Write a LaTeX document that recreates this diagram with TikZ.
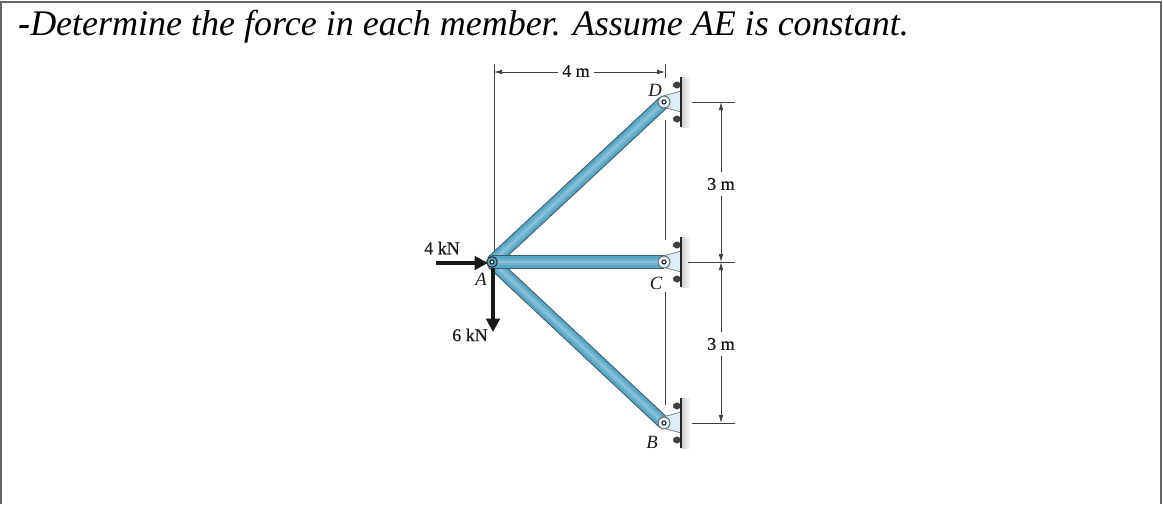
\documentclass[tikz,border=0pt]{standalone}
\usepackage{fontspec}
\setmainfont{Liberation Serif}
\newfontfamily\labelfont[FakeBold=0.5]{Liberation Serif}
\usetikzlibrary{arrows.meta}
\definecolor{barblue}{HTML}{58A6C6}
\definecolor{barlight}{HTML}{A9D3E4}
\definecolor{bardark}{HTML}{3F5F6E}
\definecolor{lugblue}{HTML}{DDEDF5}
\definecolor{framegray}{HTML}{666666}
\tikzset{
	dimline/.style={draw=black!75,line width=0.6pt},
	dimarrow/.style={dimline,-{Latex[length=6pt,width=3.5pt]}},
	load/.style={draw=black!90,line width=3.6pt,-{Triangle[length=10pt,width=10pt]}},
	lbl/.style={font=\labelfont\fontsize{13.5}{15}\selectfont,text=black!90,inner sep=0pt},
	dimlbl/.style={lbl,inner xsep=3pt,inner ysep=4pt},
	ptlbl/.style={font=\fontsize{14}{16}\selectfont\itshape,text=black!90,inner sep=0pt},
	pin/.style={circle,draw=black!60,fill=lugblue,line width=0.7pt,minimum size=9pt,inner sep=0pt},
	hole/.style={circle,draw=black!85,fill=white,line width=0.8pt,minimum size=3pt,inner sep=0pt}
}
\begin{document}
\begin{tikzpicture}[x=0.75pt,y=-0.75pt]
		\useasboundingbox (0,0) rectangle (1163,504);
		% frame and heading
		\draw[framegray,line width=1.5pt] (1,504) -- (1,2) -- (1161,2) -- (1161,504);
		\node[anchor=west,inner sep=0pt,font=\fontsize{27}{30}\selectfont\itshape] (title) at (18,27) {\textbf{-}Determine the force in each member. Assume AE is constant.};
		% joints
		\coordinate (A) at (492,262);
		\coordinate (D) at (664,102);
		\coordinate (C) at (664,262);
		\coordinate (B) at (664,423);
		% extension lines
		\draw[dimline] (494,64) -- (494,252);
		\draw[dimline] (665,64) -- (665,78);
		\draw[dimline] (665,120) -- (665,240);
		\draw[dimline] (665,292) -- (665,405);
		% members
		\foreach \pt in {D,B,C} {
			\draw[bardark,line width=10pt] (A) -- (\pt);
			\draw[barblue,line width=8.4pt] (A) -- (\pt);
			\draw[barlight,line width=5pt,opacity=0.3] (A) -- (\pt);
			\draw[barlight,line width=2pt,opacity=0.4] (A) -- (\pt);
		}
		% wall shadows, brackets and bolts
		\foreach \pt in {D,C,B} {
			\shade[left color=black!55,right color=white] (\pt) ++(17,-25) rectangle ++(10,50);
			\foreach \off in {-17,17} {
				\fill[black!55] (\pt) ++(9,\off) ++(0,-2) rectangle ++(8,4);
				\fill[black!75] (\pt) ++(13,\off) circle (3.5);
			}
			\filldraw[draw=black!55,fill=lugblue,line width=0.5pt] (\pt) ++(-1,-6) -- ++(18,-5) -- ++(0,21) -- ++(-18,-5) -- cycle;
			\draw[black!85,line width=1.5pt] (\pt) ++(17,-25) -- ++(0,50);
			\node[pin] (pin\pt) at (\pt) {};
			\node[hole] (hole\pt) at (\pt) {};
		}
		\node[pin,minimum size=8pt,fill=barblue,draw=black!85] (pinA) at (A) {};
		\node[hole,minimum size=3pt,fill=lugblue] (holeA) at (A) {};
		% loads
		\coordinate (fourtail) at (436,263);
		\coordinate (fourhead) at (488,263);
		\coordinate (sixtail) at (493,268);
		\coordinate (sixhead) at (493,332);
		\draw[load] (fourtail) -- (fourhead);
		\draw[load] (sixtail) -- (sixhead);
		% labels
		\node[lbl] (fourkn) at (442,248) {4 kN};
		\node[lbl] (sixkn) at (470,335) {6 kN};
		\node[ptlbl] (lblA) at (481,279) {A};
		\node[ptlbl] (lblB) at (652,442) {B};
		\node[ptlbl] (lblC) at (656,283) {C};
		\node[ptlbl] (lblD) at (655,90) {D};
		% dimensions
		\node[dimlbl] (fourm) at (576,71) {4 m};
		\coordinate (topl) at (494,72);
		\coordinate (topr) at (665,72);
		\draw[dimarrow] (fourm.west |- topl) -- (topl);
		\draw[dimarrow] (fourm.east |- topr) -- (topr);
		\node[dimlbl] (upper) at (721,184) {3 m};
		\node[dimlbl] (lower) at (721,344) {3 m};
		\coordinate (dimD) at (721,102);
		\coordinate (dimC) at (721,262);
		\coordinate (dimB) at (721,423);
		\draw[dimarrow] (upper) -- (dimD);
		\draw[dimarrow] (upper) -- (dimC);
		\draw[dimarrow] (lower) -- (dimC);
		\draw[dimarrow] (lower) -- (dimB);
		\draw[dimline] (692,102) -- (735,102);
		\draw[dimline] (688,262) -- (735,262);
		\draw[dimline] (692,423) -- (735,423);
	\end{tikzpicture}
\end{document}
